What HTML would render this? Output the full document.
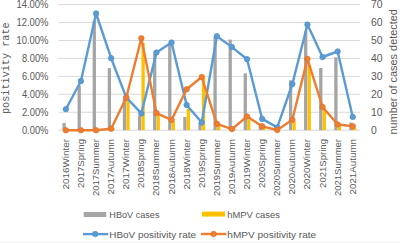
<!DOCTYPE html>
<html><head><meta charset="utf-8"><style>
html,body{margin:0;padding:0;background:#fff;width:400px;height:243px;overflow:hidden}
svg{display:block}
text{font-family:"Liberation Sans",sans-serif;fill:#595959}
.ax{font-size:10px}
.ar{font-size:10.4px}
.xl{font-size:9.6px}
.lg{font-size:9.6px}
.lt{font-family:"Liberation Mono",monospace;font-size:10.2px}
.rt{font-size:10.9px}
</style></head><body>
<svg width="400" height="243" viewBox="0 0 400 243">
<rect width="400" height="243" fill="#ffffff"/>
<line x1="58.3" y1="130.20" x2="360.3" y2="130.20" stroke="#d9d9d9" stroke-width="1"/>
<line x1="58.3" y1="112.26" x2="360.3" y2="112.26" stroke="#d9d9d9" stroke-width="1"/>
<line x1="58.3" y1="94.31" x2="360.3" y2="94.31" stroke="#d9d9d9" stroke-width="1"/>
<line x1="58.3" y1="76.37" x2="360.3" y2="76.37" stroke="#d9d9d9" stroke-width="1"/>
<line x1="58.3" y1="58.43" x2="360.3" y2="58.43" stroke="#d9d9d9" stroke-width="1"/>
<line x1="58.3" y1="40.49" x2="360.3" y2="40.49" stroke="#d9d9d9" stroke-width="1"/>
<line x1="58.3" y1="22.54" x2="360.3" y2="22.54" stroke="#d9d9d9" stroke-width="1"/>
<line x1="58.3" y1="4.60" x2="360.3" y2="4.60" stroke="#d9d9d9" stroke-width="1"/>
<rect x="62.45" y="123.00" width="3.30" height="7.20" fill="#a5a5a5"/>
<rect x="77.55" y="85.50" width="3.30" height="44.70" fill="#a5a5a5"/>
<rect x="92.65" y="20.70" width="3.30" height="109.50" fill="#a5a5a5"/>
<rect x="107.75" y="68.10" width="3.30" height="62.10" fill="#a5a5a5"/>
<rect x="111.25" y="128.40" width="3.30" height="1.80" fill="#ffc000"/>
<rect x="122.85" y="99.00" width="3.30" height="31.20" fill="#a5a5a5"/>
<rect x="126.35" y="100.50" width="3.30" height="29.70" fill="#ffc000"/>
<rect x="137.95" y="115.50" width="3.30" height="14.70" fill="#a5a5a5"/>
<rect x="141.45" y="43.00" width="3.30" height="87.20" fill="#ffc000"/>
<rect x="153.05" y="53.50" width="3.30" height="76.70" fill="#a5a5a5"/>
<rect x="156.55" y="114.50" width="3.30" height="15.70" fill="#ffc000"/>
<rect x="168.15" y="45.00" width="3.30" height="85.20" fill="#a5a5a5"/>
<rect x="171.65" y="121.00" width="3.30" height="9.20" fill="#ffc000"/>
<rect x="183.25" y="117.00" width="3.30" height="13.20" fill="#a5a5a5"/>
<rect x="186.75" y="108.70" width="3.30" height="21.50" fill="#ffc000"/>
<rect x="198.35" y="122.70" width="3.30" height="7.50" fill="#a5a5a5"/>
<rect x="201.85" y="78.00" width="3.30" height="52.20" fill="#ffc000"/>
<rect x="213.45" y="37.00" width="3.30" height="93.20" fill="#a5a5a5"/>
<rect x="216.95" y="124.00" width="3.30" height="6.20" fill="#ffc000"/>
<rect x="228.55" y="39.60" width="3.30" height="90.60" fill="#a5a5a5"/>
<rect x="232.05" y="128.40" width="3.30" height="1.80" fill="#ffc000"/>
<rect x="243.65" y="73.40" width="3.30" height="56.80" fill="#a5a5a5"/>
<rect x="247.15" y="119.50" width="3.30" height="10.70" fill="#ffc000"/>
<rect x="258.75" y="124.00" width="3.30" height="6.20" fill="#a5a5a5"/>
<rect x="262.25" y="126.00" width="3.30" height="4.20" fill="#ffc000"/>
<rect x="273.85" y="128.00" width="3.30" height="2.20" fill="#a5a5a5"/>
<rect x="277.35" y="130.00" width="3.30" height="0.20" fill="#ffc000"/>
<rect x="288.95" y="80.30" width="3.30" height="49.90" fill="#a5a5a5"/>
<rect x="292.45" y="121.50" width="3.30" height="8.70" fill="#ffc000"/>
<rect x="304.05" y="31.20" width="3.30" height="99.00" fill="#a5a5a5"/>
<rect x="307.55" y="65.00" width="3.30" height="65.20" fill="#ffc000"/>
<rect x="319.15" y="68.00" width="3.30" height="62.20" fill="#a5a5a5"/>
<rect x="322.65" y="109.50" width="3.30" height="20.70" fill="#ffc000"/>
<rect x="334.25" y="57.30" width="3.30" height="72.90" fill="#a5a5a5"/>
<rect x="337.75" y="124.80" width="3.30" height="5.40" fill="#ffc000"/>
<rect x="349.35" y="122.50" width="3.30" height="7.70" fill="#a5a5a5"/>
<rect x="352.85" y="128.00" width="3.30" height="2.20" fill="#ffc000"/>
<polyline points="65.85,109.20 80.95,81.00 96.05,13.50 111.15,58.20 126.25,97.40 141.35,113.40 156.45,52.60 171.55,42.50 186.65,105.00 201.75,122.50 216.85,36.20 231.95,47.10 247.05,59.20 262.15,118.90 277.25,127.40 292.35,84.00 307.45,24.60 322.55,57.00 337.65,51.50 352.75,116.90" fill="none" stroke="#5b9bd5" stroke-width="2.4" stroke-linejoin="round" stroke-linecap="round"/><circle cx="65.85" cy="109.20" r="2.75" fill="#5b9bd5" stroke="#4f8fca" stroke-width="0.7"/><circle cx="80.95" cy="81.00" r="2.75" fill="#5b9bd5" stroke="#4f8fca" stroke-width="0.7"/><circle cx="96.05" cy="13.50" r="2.75" fill="#5b9bd5" stroke="#4f8fca" stroke-width="0.7"/><circle cx="111.15" cy="58.20" r="2.75" fill="#5b9bd5" stroke="#4f8fca" stroke-width="0.7"/><circle cx="126.25" cy="97.40" r="2.75" fill="#5b9bd5" stroke="#4f8fca" stroke-width="0.7"/><circle cx="141.35" cy="113.40" r="2.75" fill="#5b9bd5" stroke="#4f8fca" stroke-width="0.7"/><circle cx="156.45" cy="52.60" r="2.75" fill="#5b9bd5" stroke="#4f8fca" stroke-width="0.7"/><circle cx="171.55" cy="42.50" r="2.75" fill="#5b9bd5" stroke="#4f8fca" stroke-width="0.7"/><circle cx="186.65" cy="105.00" r="2.75" fill="#5b9bd5" stroke="#4f8fca" stroke-width="0.7"/><circle cx="201.75" cy="122.50" r="2.75" fill="#5b9bd5" stroke="#4f8fca" stroke-width="0.7"/><circle cx="216.85" cy="36.20" r="2.75" fill="#5b9bd5" stroke="#4f8fca" stroke-width="0.7"/><circle cx="231.95" cy="47.10" r="2.75" fill="#5b9bd5" stroke="#4f8fca" stroke-width="0.7"/><circle cx="247.05" cy="59.20" r="2.75" fill="#5b9bd5" stroke="#4f8fca" stroke-width="0.7"/><circle cx="262.15" cy="118.90" r="2.75" fill="#5b9bd5" stroke="#4f8fca" stroke-width="0.7"/><circle cx="277.25" cy="127.40" r="2.75" fill="#5b9bd5" stroke="#4f8fca" stroke-width="0.7"/><circle cx="292.35" cy="84.00" r="2.75" fill="#5b9bd5" stroke="#4f8fca" stroke-width="0.7"/><circle cx="307.45" cy="24.60" r="2.75" fill="#5b9bd5" stroke="#4f8fca" stroke-width="0.7"/><circle cx="322.55" cy="57.00" r="2.75" fill="#5b9bd5" stroke="#4f8fca" stroke-width="0.7"/><circle cx="337.65" cy="51.50" r="2.75" fill="#5b9bd5" stroke="#4f8fca" stroke-width="0.7"/><circle cx="352.75" cy="116.90" r="2.75" fill="#5b9bd5" stroke="#4f8fca" stroke-width="0.7"/>
<polyline points="65.85,130.30 80.95,130.30 96.05,130.30 111.15,128.80 126.25,97.80 141.35,38.30 156.45,113.10 171.55,119.90 186.65,89.20 201.75,77.00 216.85,123.80 231.95,129.10 247.05,116.50 262.15,126.30 277.25,130.00 292.35,119.80 307.45,58.90 322.55,107.00 337.65,124.40 352.75,126.30" fill="none" stroke="#ed7d31" stroke-width="2.4" stroke-linejoin="round" stroke-linecap="round"/><circle cx="65.85" cy="130.30" r="2.75" fill="#ed7d31" stroke="#e07028" stroke-width="0.7"/><circle cx="80.95" cy="130.30" r="2.75" fill="#ed7d31" stroke="#e07028" stroke-width="0.7"/><circle cx="96.05" cy="130.30" r="2.75" fill="#ed7d31" stroke="#e07028" stroke-width="0.7"/><circle cx="111.15" cy="128.80" r="2.75" fill="#ed7d31" stroke="#e07028" stroke-width="0.7"/><circle cx="126.25" cy="97.80" r="2.75" fill="#ed7d31" stroke="#e07028" stroke-width="0.7"/><circle cx="141.35" cy="38.30" r="2.75" fill="#ed7d31" stroke="#e07028" stroke-width="0.7"/><circle cx="156.45" cy="113.10" r="2.75" fill="#ed7d31" stroke="#e07028" stroke-width="0.7"/><circle cx="171.55" cy="119.90" r="2.75" fill="#ed7d31" stroke="#e07028" stroke-width="0.7"/><circle cx="186.65" cy="89.20" r="2.75" fill="#ed7d31" stroke="#e07028" stroke-width="0.7"/><circle cx="201.75" cy="77.00" r="2.75" fill="#ed7d31" stroke="#e07028" stroke-width="0.7"/><circle cx="216.85" cy="123.80" r="2.75" fill="#ed7d31" stroke="#e07028" stroke-width="0.7"/><circle cx="231.95" cy="129.10" r="2.75" fill="#ed7d31" stroke="#e07028" stroke-width="0.7"/><circle cx="247.05" cy="116.50" r="2.75" fill="#ed7d31" stroke="#e07028" stroke-width="0.7"/><circle cx="262.15" cy="126.30" r="2.75" fill="#ed7d31" stroke="#e07028" stroke-width="0.7"/><circle cx="277.25" cy="130.00" r="2.75" fill="#ed7d31" stroke="#e07028" stroke-width="0.7"/><circle cx="292.35" cy="119.80" r="2.75" fill="#ed7d31" stroke="#e07028" stroke-width="0.7"/><circle cx="307.45" cy="58.90" r="2.75" fill="#ed7d31" stroke="#e07028" stroke-width="0.7"/><circle cx="322.55" cy="107.00" r="2.75" fill="#ed7d31" stroke="#e07028" stroke-width="0.7"/><circle cx="337.65" cy="124.40" r="2.75" fill="#ed7d31" stroke="#e07028" stroke-width="0.7"/><circle cx="352.75" cy="126.30" r="2.75" fill="#ed7d31" stroke="#e07028" stroke-width="0.7"/>
<text x="48.4" y="133.60" text-anchor="end" class="ax" textLength="26.5" lengthAdjust="spacingAndGlyphs">0.00%</text>
<text x="48.4" y="115.66" text-anchor="end" class="ax" textLength="26.5" lengthAdjust="spacingAndGlyphs">2.00%</text>
<text x="48.4" y="97.71" text-anchor="end" class="ax" textLength="26.5" lengthAdjust="spacingAndGlyphs">4.00%</text>
<text x="48.4" y="79.77" text-anchor="end" class="ax" textLength="26.5" lengthAdjust="spacingAndGlyphs">6.00%</text>
<text x="48.4" y="61.83" text-anchor="end" class="ax" textLength="26.5" lengthAdjust="spacingAndGlyphs">8.00%</text>
<text x="48.4" y="43.89" text-anchor="end" class="ax" textLength="31.9" lengthAdjust="spacingAndGlyphs">10.00%</text>
<text x="48.4" y="25.94" text-anchor="end" class="ax" textLength="31.9" lengthAdjust="spacingAndGlyphs">12.00%</text>
<text x="48.4" y="8.00" text-anchor="end" class="ax" textLength="31.9" lengthAdjust="spacingAndGlyphs">14.00%</text>
<text x="370.9" y="133.80" class="ar">0</text>
<text x="370.9" y="115.86" class="ar">10</text>
<text x="370.9" y="97.91" class="ar">20</text>
<text x="370.9" y="79.97" class="ar">30</text>
<text x="370.9" y="62.03" class="ar">40</text>
<text x="370.9" y="44.09" class="ar">50</text>
<text x="370.9" y="26.14" class="ar">60</text>
<text x="370.9" y="8.20" class="ar">70</text>
<text transform="translate(68.85,189.50) rotate(-90)" text-anchor="start" textLength="50.5" lengthAdjust="spacingAndGlyphs" class="xl">2016Winter</text>
<text transform="translate(83.95,187.90) rotate(-90)" text-anchor="start" textLength="48.9" lengthAdjust="spacingAndGlyphs" class="xl">2017Spring</text>
<text transform="translate(99.05,196.00) rotate(-90)" text-anchor="start" textLength="57.0" lengthAdjust="spacingAndGlyphs" class="xl">2017Summer</text>
<text transform="translate(114.15,194.50) rotate(-90)" text-anchor="start" textLength="55.5" lengthAdjust="spacingAndGlyphs" class="xl">2017Autumn</text>
<text transform="translate(129.25,189.50) rotate(-90)" text-anchor="start" textLength="50.5" lengthAdjust="spacingAndGlyphs" class="xl">2017Winter</text>
<text transform="translate(144.35,187.90) rotate(-90)" text-anchor="start" textLength="48.9" lengthAdjust="spacingAndGlyphs" class="xl">2018Spring</text>
<text transform="translate(159.45,196.00) rotate(-90)" text-anchor="start" textLength="57.0" lengthAdjust="spacingAndGlyphs" class="xl">2018Summer</text>
<text transform="translate(174.55,194.50) rotate(-90)" text-anchor="start" textLength="55.5" lengthAdjust="spacingAndGlyphs" class="xl">2018Autumn</text>
<text transform="translate(189.65,189.50) rotate(-90)" text-anchor="start" textLength="50.5" lengthAdjust="spacingAndGlyphs" class="xl">2018Winter</text>
<text transform="translate(204.75,187.90) rotate(-90)" text-anchor="start" textLength="48.9" lengthAdjust="spacingAndGlyphs" class="xl">2019Spring</text>
<text transform="translate(219.85,196.00) rotate(-90)" text-anchor="start" textLength="57.0" lengthAdjust="spacingAndGlyphs" class="xl">2019Summer</text>
<text transform="translate(234.95,194.50) rotate(-90)" text-anchor="start" textLength="55.5" lengthAdjust="spacingAndGlyphs" class="xl">2019Autumn</text>
<text transform="translate(250.05,189.50) rotate(-90)" text-anchor="start" textLength="50.5" lengthAdjust="spacingAndGlyphs" class="xl">2019Winter</text>
<text transform="translate(265.15,187.90) rotate(-90)" text-anchor="start" textLength="48.9" lengthAdjust="spacingAndGlyphs" class="xl">2020Spring</text>
<text transform="translate(280.25,196.00) rotate(-90)" text-anchor="start" textLength="57.0" lengthAdjust="spacingAndGlyphs" class="xl">2020Summer</text>
<text transform="translate(295.35,194.50) rotate(-90)" text-anchor="start" textLength="55.5" lengthAdjust="spacingAndGlyphs" class="xl">2020Autumn</text>
<text transform="translate(310.45,189.50) rotate(-90)" text-anchor="start" textLength="50.5" lengthAdjust="spacingAndGlyphs" class="xl">2020Winter</text>
<text transform="translate(325.55,187.90) rotate(-90)" text-anchor="start" textLength="48.9" lengthAdjust="spacingAndGlyphs" class="xl">2021Spring</text>
<text transform="translate(340.65,196.00) rotate(-90)" text-anchor="start" textLength="57.0" lengthAdjust="spacingAndGlyphs" class="xl">2021Summer</text>
<text transform="translate(355.75,194.50) rotate(-90)" text-anchor="start" textLength="55.5" lengthAdjust="spacingAndGlyphs" class="xl">2021Autumn</text>
<text transform="translate(9.0,68.2) rotate(-90)" text-anchor="middle" class="lt">positivity rate</text>
<text transform="translate(397.2,71.8) rotate(-90)" text-anchor="middle" class="rt">number of cases detected</text>
<rect x="83.7" y="212" width="22.5" height="5" fill="#a5a5a5"/>
<text x="109.3" y="217.6" class="lg" textLength="50.2" lengthAdjust="spacingAndGlyphs">HBoV cases</text>
<rect x="202" y="211.6" width="23" height="5" fill="#ffc000"/>
<text x="227.3" y="217.6" class="lg" textLength="52.6" lengthAdjust="spacingAndGlyphs">hMPV cases</text>
<line x1="83" y1="234.1" x2="108.3" y2="234.1" stroke="#5b9bd5" stroke-width="2.4"/><circle cx="95.2" cy="234.1" r="2.75" fill="#5b9bd5" stroke="#4f8fca" stroke-width="0.7"/>
<text x="109.3" y="237.6" class="lg" textLength="86.7" lengthAdjust="spacingAndGlyphs">HBoV positivity rate</text>
<line x1="201" y1="234" x2="226.5" y2="234" stroke="#ed7d31" stroke-width="2.4"/><circle cx="213.6" cy="234" r="2.75" fill="#ed7d31" stroke="#e07028" stroke-width="0.7"/>
<text x="227.3" y="237.6" class="lg" textLength="88.9" lengthAdjust="spacingAndGlyphs">hMPV positivity rate</text>
<rect x="0" y="241.3" width="400" height="1.7" fill="#f7f7f7"/>
</svg>
</body></html>
